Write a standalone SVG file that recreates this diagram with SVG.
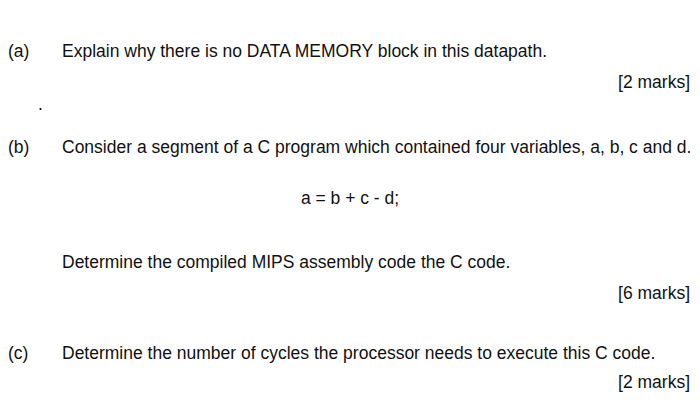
<svg xmlns="http://www.w3.org/2000/svg" width="700" height="408" viewBox="0 0 700 408">
<style>text{font-family:"Liberation Sans",Arial,sans-serif;font-size:17.5px;fill:#111}.r{text-anchor:end}</style>
<rect width="700" height="408" fill="#fff"/>
<text x="8" y="57">(a)</text>
<text x="62" y="57">Explain why there is no DATA MEMORY block in this datapath.</text>
<text class="r" x="690" y="88">[2 marks]</text>
<text x="38" y="110">.</text>
<text x="8" y="153">(b)</text>
<text x="62" y="153">Consider a segment of a C program which contained four variables, a, b, c and d.</text>
<text x="350" y="204" text-anchor="middle">a = b + c - d;</text>
<text x="62" y="268">Determine the compiled MIPS assembly code the C code.</text>
<text class="r" x="690" y="299">[6 marks]</text>
<text x="8" y="359">(c)</text>
<text x="62" y="359">Determine the number of cycles the processor needs to execute this C code.</text>
<text class="r" x="690" y="388">[2 marks]</text>
</svg>
